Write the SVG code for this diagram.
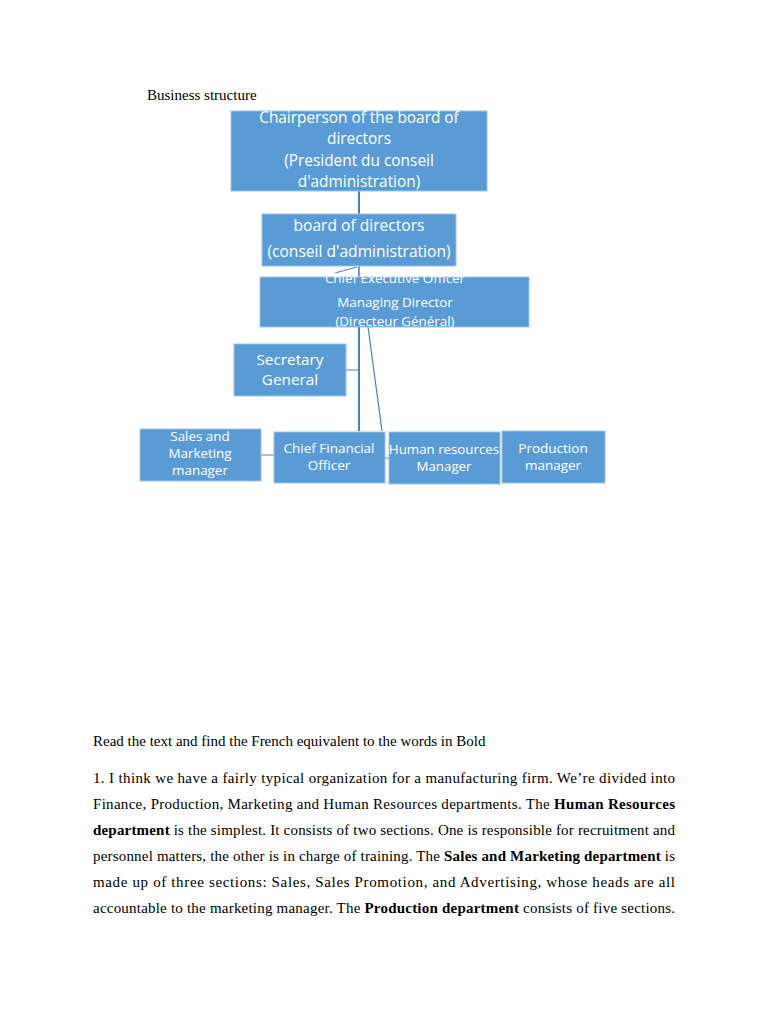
<svg xmlns="http://www.w3.org/2000/svg" width="768" height="1024" viewBox="0 0 768 1024">
<style>
.box{fill:#5B9BD5;stroke:#9DC3E6;stroke-width:1}
.bt{font-family:"Open Sans","Liberation Sans",sans-serif;fill:#ffffff;text-anchor:middle}
.ln{stroke:#4A7EBB;fill:none}
.tx{font-family:"Liberation Serif","Times New Roman",serif;font-size:15px;fill:#000}
.b{font-weight:bold}
</style>
<rect width="768" height="1024" fill="#ffffff"/>
<text class="tx" x="147" y="100" font-size="14.5">Business structure</text>
<g id="connectors">
<line class="ln" x1="359" y1="191" x2="359" y2="214" stroke-width="2"/>
<line class="ln" x1="359" y1="266" x2="359" y2="277" stroke-width="1.5"/>
<line class="ln" x1="335" y1="273" x2="357" y2="267" stroke-width="1"/>
<line class="ln" x1="359" y1="327" x2="359" y2="431" stroke-width="2"/>
<line class="ln" x1="368" y1="327" x2="382" y2="431" stroke-width="1.2"/>
<line class="ln" x1="346" y1="370" x2="359" y2="370" stroke-width="1"/>
<line class="ln" x1="261" y1="455" x2="274" y2="455" stroke-width="1"/>
<line class="ln" x1="385" y1="458" x2="389" y2="458" stroke-width="1"/>
</g>
<g id="chair">
<rect class="box" x="231" y="111" width="256" height="80"/>
<text class="bt" font-size="15.4" x="359" y="123">Chairperson of the board of</text>
<text class="bt" font-size="15.4" x="359" y="144">directors</text>
<text class="bt" font-size="15.4" x="359" y="166">(President du conseil</text>
<text class="bt" font-size="15.4" x="359" y="187">d'administration)</text>
</g>
<g id="board">
<rect class="box" x="262" y="214" width="194" height="52"/>
<text class="bt" font-size="15.6" x="359" y="231">board of directors</text>
<text class="bt" font-size="15.6" x="359" y="257">(conseil d'administration)</text>
</g>
<g id="ceo">
<rect class="box" x="260" y="277" width="269" height="50"/>
<text class="bt" font-size="13.4" x="395" y="283">Chief Executive Officer</text>
<text class="bt" font-size="13.4" x="395" y="307">Managing Director</text>
<text class="bt" font-size="13.4" x="395" y="326">(Directeur Général)</text>
</g>
<g id="secretary">
<rect class="box" x="234" y="344" width="112" height="52"/>
<text class="bt" font-size="15.3" x="290" y="365">Secretary</text>
<text class="bt" font-size="15.3" x="290" y="385">General</text>
</g>
<g id="sales">
<rect class="box" x="140" y="429" width="121" height="52"/>
<text class="bt" font-size="13.4" x="200" y="441">Sales and</text>
<text class="bt" font-size="13.4" x="200" y="458">Marketing</text>
<text class="bt" font-size="13.4" x="200" y="475">manager</text>
</g>
<g id="cfo">
<rect class="box" x="274" y="432" width="111" height="51"/>
<text class="bt" font-size="13.5" x="329" y="453">Chief Financial</text>
<text class="bt" font-size="13.5" x="329" y="470">Officer</text>
</g>
<g id="hr">
<rect class="box" x="389" y="432" width="111" height="52"/>
<text class="bt" font-size="13.3" x="444" y="454">Human resources</text>
<text class="bt" font-size="13.3" x="444" y="471">Manager</text>
</g>
<g id="production">
<rect class="box" x="502" y="431" width="103" height="52"/>
<text class="bt" font-size="13.5" x="553" y="453">Production</text>
<text class="bt" font-size="13.5" x="553" y="470">manager</text>
</g>
<text class="tx" x="93" y="746" font-size="15.3">Read the text and find the French equivalent to the words in Bold</text>
<text class="tx" x="93" y="783" textLength="582" lengthAdjust="spacing">1. I think we have a fairly typical organization for a manufacturing firm. We’re divided into</text>
<text class="tx" x="93" y="809" textLength="582" lengthAdjust="spacing">Finance, Production, Marketing and Human Resources departments. The <tspan class="b">Human Resources</tspan></text>
<text class="tx" x="93" y="835" textLength="582" lengthAdjust="spacing"><tspan class="b">department</tspan> is the simplest. It consists of two sections. One is responsible for recruitment and</text>
<text class="tx" x="93" y="861" textLength="582" lengthAdjust="spacing">personnel matters, the other is in charge of training. The <tspan class="b">Sales and Marketing department</tspan> is</text>
<text class="tx" x="93" y="887" textLength="582" lengthAdjust="spacing">made up of three sections: Sales, Sales Promotion, and Advertising, whose heads are all</text>
<text class="tx" x="93" y="913" textLength="582" lengthAdjust="spacing">accountable to the marketing manager. The <tspan class="b">Production department</tspan> consists of five sections.</text>
</svg>
